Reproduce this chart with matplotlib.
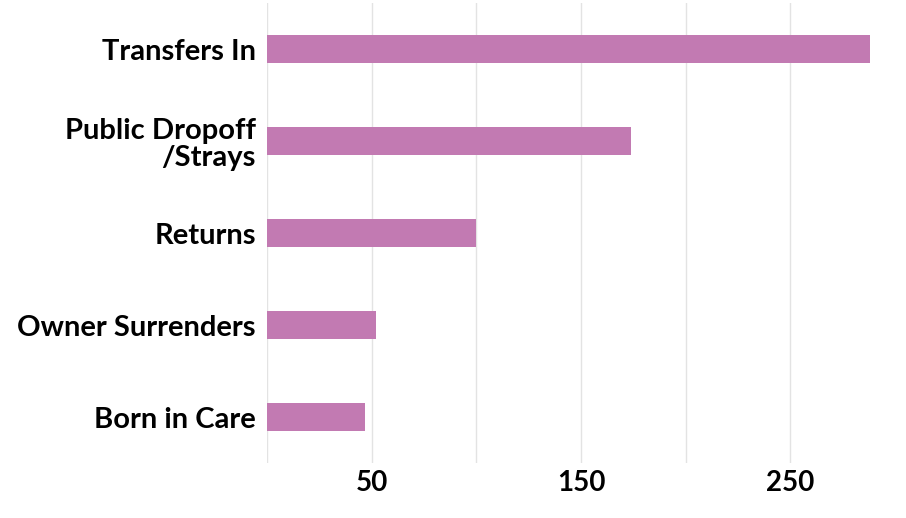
import numpy as np
import matplotlib.pyplot as plt

# intake counts by source
categories = ['Transfers In', 'Public Dropoff\n/Strays', 'Returns', 'Owner Surrenders', 'Born in Care']
counts = [288, 174, 100, 52, 47]
tick_vals = [0, 50, 100, 150, 200, 250]
tick_labels = ['', '50', '', '150', '', '250']

plt.rcParams['font.family'] = ['Lato', 'DejaVu Sans']

fig = plt.figure(figsize=(9.06, 5.18), dpi=100)
ax = fig.add_axes([267/906, 1 - 463/518, 607/906, 460/518])

y = np.arange(len(categories))
ax.barh(y, counts, height=0.31, color='#c27ab2', zorder=2)

ax.set_ylim(len(categories) - 0.5, -0.5)
ax.set_xlim(0, 290)
ax.set_yticks(y)
ax.set_yticklabels(categories, fontsize=21, fontweight='bold', linespacing=1.05)
ax.set_xticks(tick_vals)
ax.set_xticklabels(tick_labels, fontsize=20, fontweight='bold')
ax.tick_params(axis='both', length=0)
ax.tick_params(axis='y', pad=8)
ax.tick_params(axis='x', pad=5)
ax.grid(axis='x', color='#e3e3e3', linewidth=1, zorder=0)
for s in ax.spines.values():
    s.set_visible(False)

fig.savefig('out.png', dpi=100)
